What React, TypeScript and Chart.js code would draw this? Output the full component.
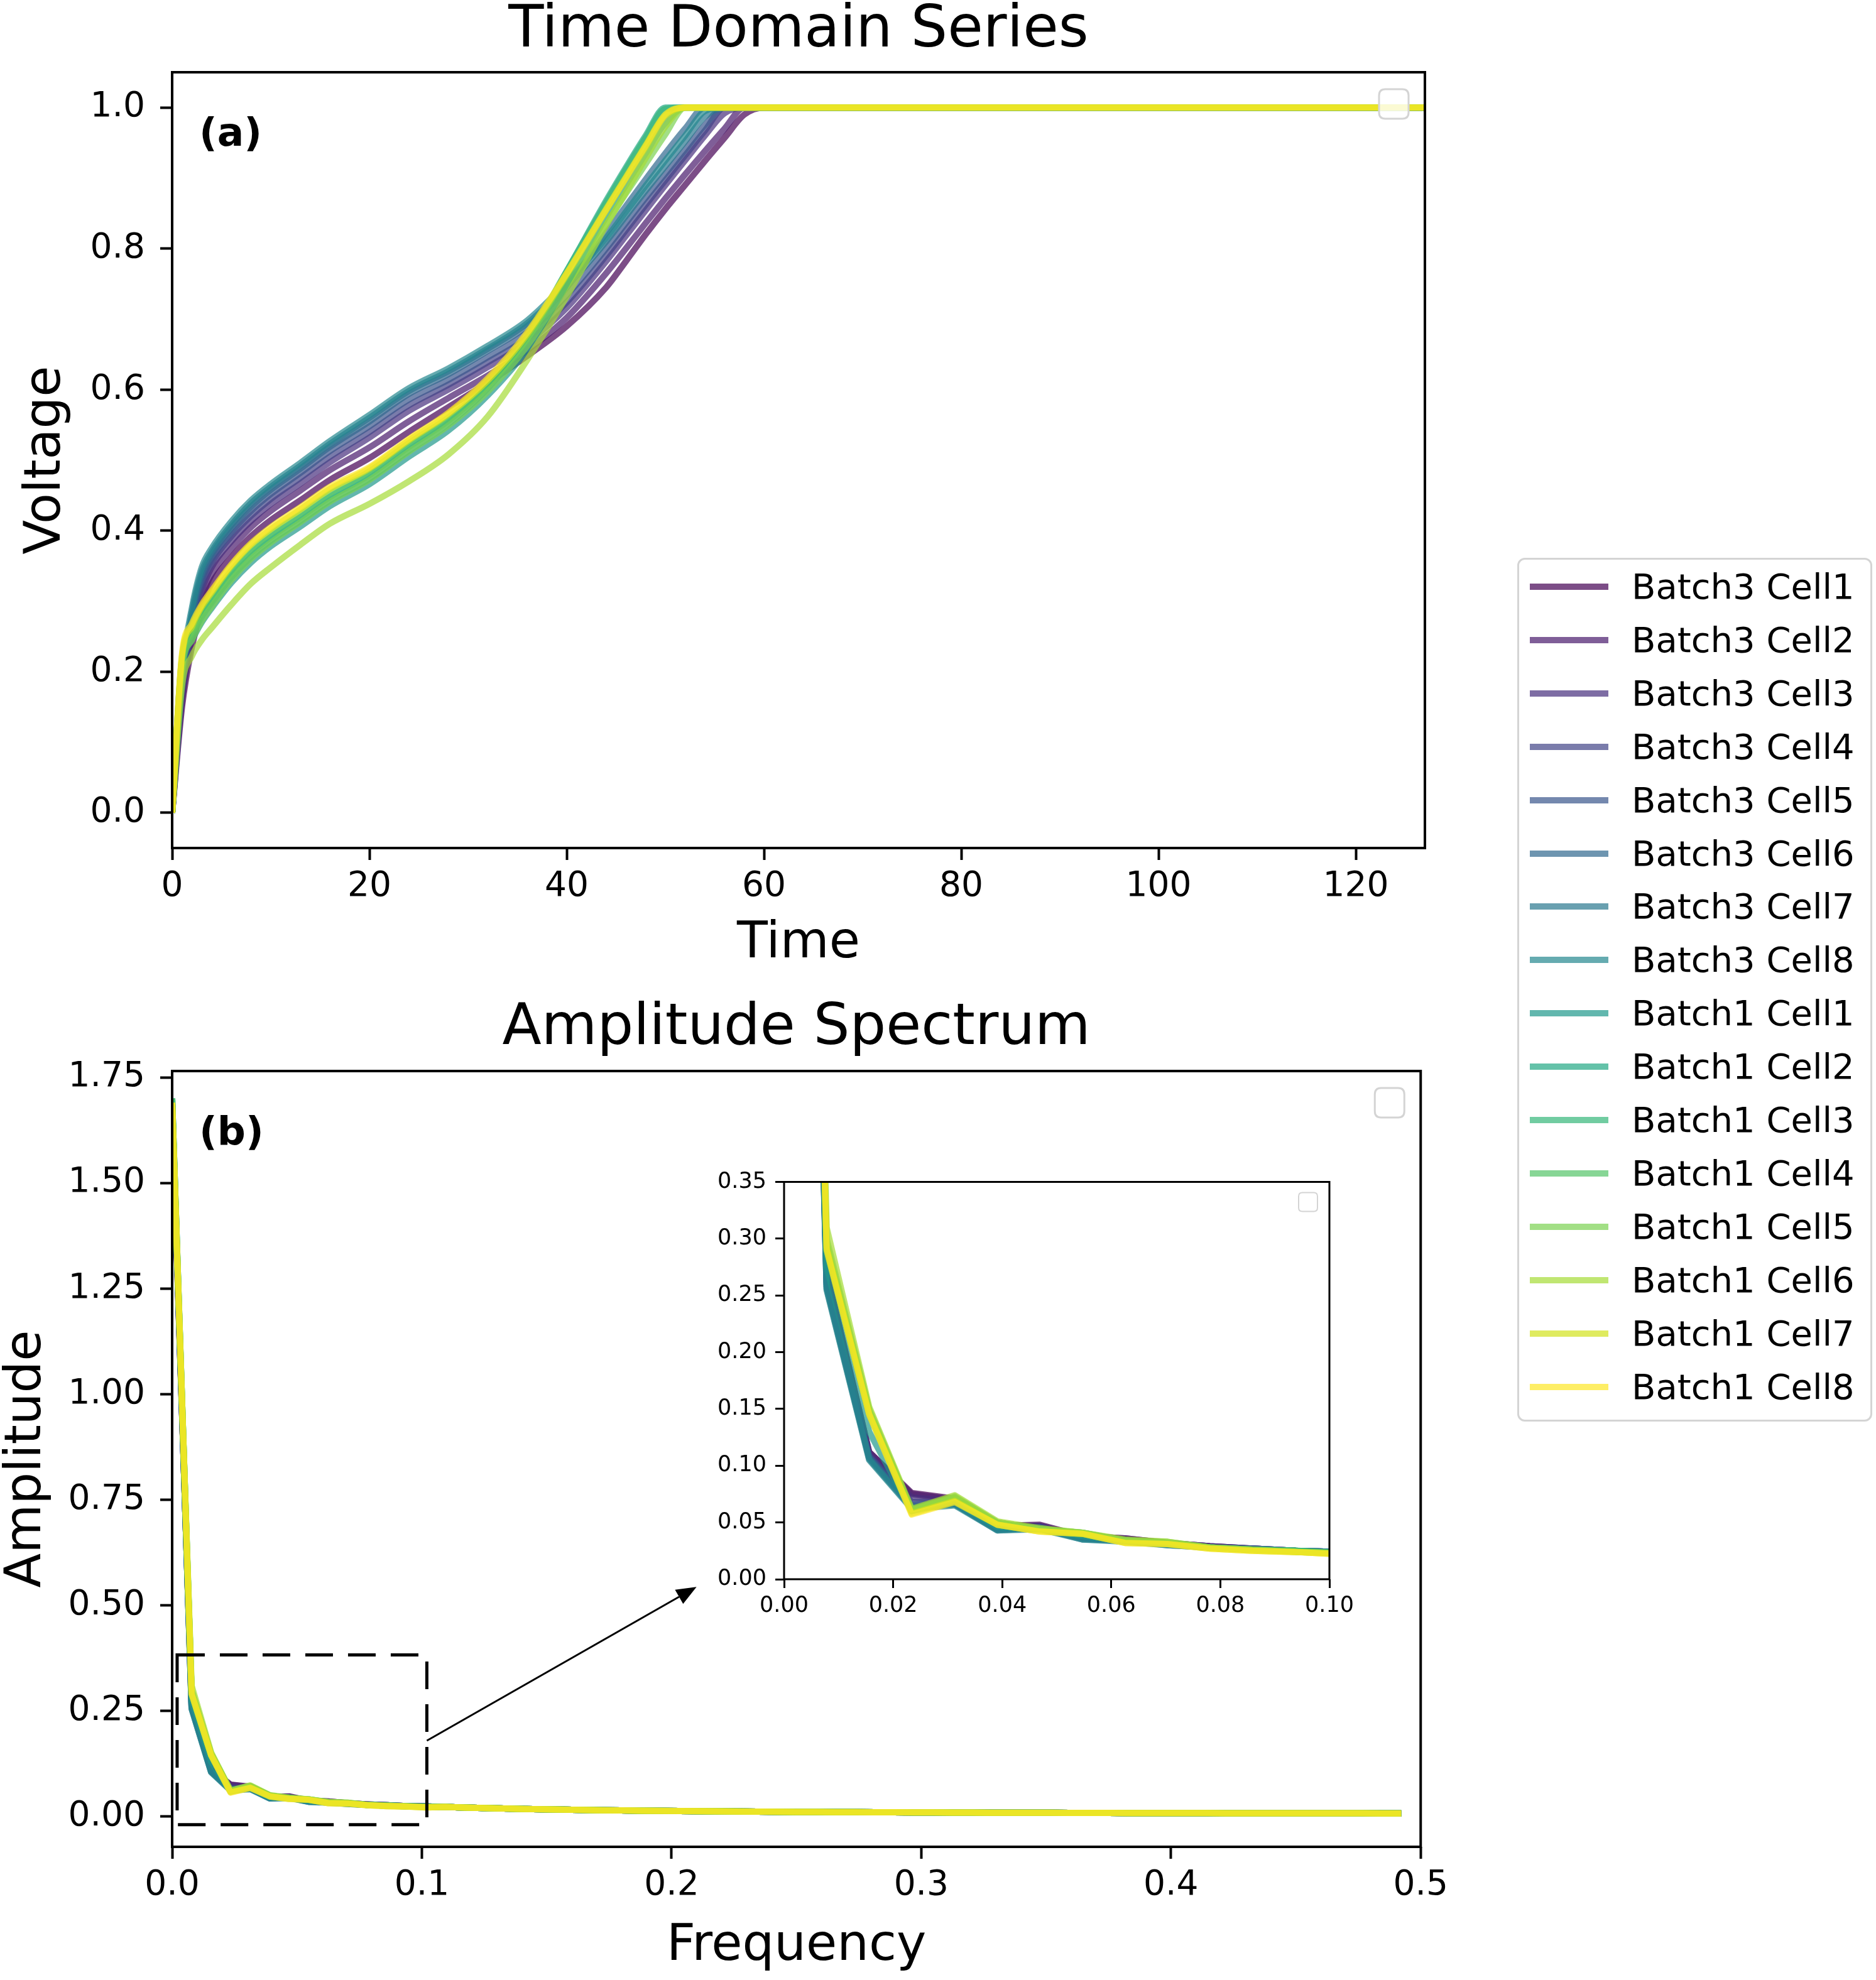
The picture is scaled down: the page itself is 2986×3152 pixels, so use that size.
import React, { useEffect, useRef } from 'react';
import { Chart, registerables } from 'chart.js';

Chart.register(...registerables);

const FONT = "'DejaVu Sans', 'Liberation Sans', sans-serif";
Chart.defaults.font.family = FONT;

// ---------------- data ----------------
const SERIES_NAMES = [
  'Batch3 Cell1', 'Batch3 Cell2', 'Batch3 Cell3', 'Batch3 Cell4',
  'Batch3 Cell5', 'Batch3 Cell6', 'Batch3 Cell7', 'Batch3 Cell8',
  'Batch1 Cell1', 'Batch1 Cell2', 'Batch1 Cell3', 'Batch1 Cell4',
  'Batch1 Cell5', 'Batch1 Cell6', 'Batch1 Cell7', 'Batch1 Cell8',
];

const TIME = [0, 1, 2, 3, 4, 6, 8, 10, 13, 16, 20, 24, 28, 32, 36, 40, 44, 46, 48, 50, 52, 54, 56, 58, 60, 127];

const V_B3C1 = [0, 0.15, 0.235, 0.29, 0.325, 0.362, 0.392, 0.415, 0.443, 0.472, 0.503, 0.54, 0.575, 0.61, 0.648, 0.69, 0.745, 0.782, 0.82, 0.856, 0.89, 0.924, 0.957, 0.99, 1, 1];
const V_B3C2 = [0, 0.16, 0.25, 0.305, 0.338, 0.375, 0.405, 0.428, 0.457, 0.486, 0.518, 0.555, 0.588, 0.62, 0.656, 0.702, 0.765, 0.8, 0.836, 0.871, 0.905, 0.938, 0.97, 1, 1, 1];
const V_B3C3 = [0, 0.17, 0.26, 0.315, 0.348, 0.385, 0.414, 0.438, 0.467, 0.497, 0.532, 0.57, 0.6, 0.632, 0.667, 0.716, 0.782, 0.818, 0.854, 0.89, 0.925, 0.96, 0.992, 1, 1, 1];
const V_B3C4 = [0, 0.17, 0.265, 0.322, 0.354, 0.392, 0.421, 0.445, 0.475, 0.505, 0.54, 0.578, 0.607, 0.639, 0.673, 0.724, 0.79, 0.826, 0.862, 0.897, 0.932, 0.967, 1, 1, 1, 1];
const V_B3C5 = [0, 0.18, 0.272, 0.33, 0.36, 0.398, 0.428, 0.452, 0.482, 0.513, 0.548, 0.586, 0.614, 0.646, 0.681, 0.734, 0.8, 0.836, 0.872, 0.906, 0.94, 0.975, 1, 1, 1, 1];
const V_B3C6 = [0, 0.185, 0.278, 0.336, 0.366, 0.404, 0.434, 0.458, 0.488, 0.519, 0.555, 0.594, 0.622, 0.655, 0.69, 0.745, 0.822, 0.86, 0.898, 0.935, 0.97, 1, 1, 1, 1, 1];
const V_B3C7 = [0, 0.19, 0.284, 0.342, 0.37, 0.408, 0.439, 0.462, 0.492, 0.523, 0.56, 0.598, 0.626, 0.658, 0.694, 0.747, 0.81, 0.846, 0.882, 0.917, 0.952, 0.987, 1, 1, 1, 1];
const V_B3C8 = [0, 0.2, 0.29, 0.348, 0.375, 0.413, 0.443, 0.466, 0.496, 0.527, 0.564, 0.602, 0.63, 0.662, 0.698, 0.752, 0.815, 0.852, 0.889, 0.925, 0.96, 0.995, 1, 1, 1, 1];
const V_B1C1 = [0, 0.21, 0.245, 0.27, 0.29, 0.326, 0.355, 0.378, 0.406, 0.435, 0.466, 0.505, 0.542, 0.592, 0.657, 0.747, 0.845, 0.89, 0.935, 0.978, 1, 1, 1, 1, 1, 1];
const V_B1C2 = [0, 0.215, 0.252, 0.278, 0.298, 0.334, 0.363, 0.386, 0.414, 0.443, 0.474, 0.514, 0.552, 0.602, 0.672, 0.768, 0.868, 0.915, 0.96, 1, 1, 1, 1, 1, 1, 1];
const V_B1C3 = [0, 0.218, 0.256, 0.282, 0.302, 0.338, 0.368, 0.391, 0.419, 0.448, 0.479, 0.519, 0.556, 0.605, 0.673, 0.768, 0.865, 0.912, 0.957, 0.998, 1, 1, 1, 1, 1, 1];
const V_B1C4 = [0, 0.22, 0.26, 0.287, 0.307, 0.343, 0.373, 0.396, 0.424, 0.453, 0.484, 0.524, 0.56, 0.607, 0.672, 0.763, 0.858, 0.903, 0.948, 0.99, 1, 1, 1, 1, 1, 1];
const V_B1C5 = [0, 0.205, 0.245, 0.272, 0.292, 0.33, 0.36, 0.383, 0.412, 0.441, 0.472, 0.512, 0.549, 0.597, 0.662, 0.748, 0.835, 0.878, 0.92, 0.962, 1, 1, 1, 1, 1, 1];
const V_B1C6 = [0, 0.18, 0.222, 0.245, 0.262, 0.295, 0.325, 0.348, 0.38, 0.41, 0.438, 0.47, 0.508, 0.562, 0.642, 0.732, 0.833, 0.88, 0.928, 0.973, 1, 1, 1, 1, 1, 1];
const V_B1C7 = [0, 0.222, 0.264, 0.292, 0.312, 0.35, 0.38, 0.402, 0.43, 0.459, 0.488, 0.528, 0.565, 0.613, 0.678, 0.763, 0.854, 0.899, 0.944, 0.988, 1, 1, 1, 1, 1, 1];
const V_B1C8 = [0, 0.225, 0.268, 0.295, 0.315, 0.352, 0.382, 0.405, 0.433, 0.462, 0.49, 0.53, 0.567, 0.616, 0.681, 0.765, 0.856, 0.901, 0.946, 0.99, 1, 1, 1, 1, 1, 1];

const VOLTAGE = [V_B3C1, V_B3C2, V_B3C3, V_B3C4, V_B3C5, V_B3C6, V_B3C7, V_B3C8,
  V_B1C1, V_B1C2, V_B1C3, V_B1C4, V_B1C5, V_B1C6, V_B1C7, V_B1C8];

const FREQ = [
  0, 0.0078, 0.0156, 0.0234, 0.0313, 0.0391, 0.0469, 0.0547,
  0.0625, 0.0703, 0.0781, 0.0859, 0.0938, 0.1016, 0.1094, 0.1172,
  0.125, 0.1328, 0.1406, 0.1484, 0.1563, 0.1641, 0.1719, 0.1797,
  0.1875, 0.1953, 0.2031, 0.2109, 0.2188, 0.2266, 0.2344, 0.2422,
  0.25, 0.2578, 0.2656, 0.2734, 0.2813, 0.2891, 0.2969, 0.3047,
  0.3125, 0.3203, 0.3281, 0.3359, 0.3438, 0.3516, 0.3594, 0.3672,
  0.375, 0.3828, 0.3906, 0.3984, 0.4063, 0.4141, 0.4219, 0.4297,
  0.4375, 0.4453, 0.4531, 0.4609, 0.4688, 0.4766, 0.4844, 0.4922,
];

// first 14 bins (f = 0 ... 0.1016) differ per cell
const A_B3C1 = [1.66, 0.27, 0.112, 0.076, 0.071, 0.047, 0.048, 0.038, 0.036, 0.032, 0.029, 0.027, 0.025, 0.024];
const A_B3C2 = [1.67, 0.27, 0.112, 0.075, 0.07, 0.047, 0.047, 0.038, 0.036, 0.032, 0.029, 0.027, 0.025, 0.024];
const A_B3C3 = [1.67, 0.265, 0.11, 0.072, 0.069, 0.046, 0.047, 0.037, 0.035, 0.032, 0.029, 0.027, 0.025, 0.024];
const A_B3C4 = [1.68, 0.262, 0.109, 0.068, 0.068, 0.045, 0.046, 0.037, 0.035, 0.031, 0.028, 0.027, 0.025, 0.024];
const A_B3C5 = [1.68, 0.26, 0.108, 0.066, 0.067, 0.044, 0.046, 0.036, 0.034, 0.031, 0.028, 0.027, 0.025, 0.024];
const A_B3C6 = [1.69, 0.258, 0.107, 0.064, 0.066, 0.044, 0.045, 0.036, 0.034, 0.031, 0.028, 0.027, 0.025, 0.024];
const A_B3C7 = [1.69, 0.256, 0.106, 0.063, 0.066, 0.043, 0.045, 0.035, 0.034, 0.03, 0.028, 0.026, 0.025, 0.024];
const A_B3C8 = [1.69, 0.255, 0.105, 0.062, 0.065, 0.043, 0.044, 0.035, 0.033, 0.03, 0.028, 0.026, 0.025, 0.024];
const A_B1C1 = [1.7, 0.275, 0.13, 0.06, 0.068, 0.046, 0.044, 0.038, 0.034, 0.031, 0.028, 0.026, 0.025, 0.023];
const A_B1C2 = [1.7, 0.29, 0.145, 0.06, 0.071, 0.049, 0.044, 0.04, 0.034, 0.032, 0.028, 0.026, 0.025, 0.023];
const A_B1C3 = [1.7, 0.29, 0.147, 0.06, 0.072, 0.05, 0.044, 0.041, 0.034, 0.032, 0.028, 0.026, 0.025, 0.023];
const A_B1C4 = [1.7, 0.295, 0.148, 0.061, 0.072, 0.05, 0.044, 0.041, 0.034, 0.032, 0.028, 0.026, 0.025, 0.023];
const A_B1C5 = [1.69, 0.3, 0.15, 0.061, 0.073, 0.05, 0.044, 0.041, 0.034, 0.033, 0.028, 0.026, 0.024, 0.023];
const A_B1C6 = [1.68, 0.31, 0.152, 0.062, 0.074, 0.051, 0.045, 0.041, 0.035, 0.033, 0.028, 0.026, 0.024, 0.023];
const A_B1C7 = [1.69, 0.292, 0.146, 0.058, 0.069, 0.048, 0.042, 0.04, 0.032, 0.031, 0.027, 0.025, 0.024, 0.022];
const A_B1C8 = [1.69, 0.29, 0.145, 0.057, 0.068, 0.048, 0.042, 0.04, 0.032, 0.031, 0.027, 0.025, 0.024, 0.022];

// remaining bins (f = 0.1094 ... 0.4922), common to all cells
const A_TAIL = [
  0.0231, 0.0216, 0.0204, 0.0193, 0.0183, 0.0174, 0.0166, 0.0159, 0.0153, 0.0147,
  0.0142, 0.0137, 0.0133, 0.0129, 0.0125, 0.0122, 0.0119, 0.0116, 0.0113, 0.0111,
  0.0108, 0.0106, 0.0104, 0.0102, 0.0101, 0.0099, 0.0097, 0.0096, 0.0094, 0.0093,
  0.0092, 0.0091, 0.009, 0.0089, 0.0088, 0.0087, 0.0086, 0.0085, 0.0084, 0.0084,
  0.0083, 0.0082, 0.0082, 0.0081, 0.0081, 0.008, 0.008, 0.008, 0.0079, 0.0079,
];

const AMP_HEADS = [A_B3C1, A_B3C2, A_B3C3, A_B3C4, A_B3C5, A_B3C6, A_B3C7, A_B3C8,
  A_B1C1, A_B1C2, A_B1C3, A_B1C4, A_B1C5, A_B1C6, A_B1C7, A_B1C8];

const TIME_TICKS = [0, 20, 40, 60, 80, 100, 120];
const VOLT_TICKS = [0, 0.2, 0.4, 0.6, 0.8, 1.0];
const FREQ_TICKS = [0, 0.1, 0.2, 0.3, 0.4, 0.5];
const AMP_TICKS = [0, 0.25, 0.5, 0.75, 1.0, 1.25, 1.5, 1.75];
const INSET_FREQ_TICKS = [0, 0.02, 0.04, 0.06, 0.08, 0.1];
const INSET_AMP_TICKS = [0, 0.05, 0.1, 0.15, 0.2, 0.25, 0.3, 0.35];

// ---------------- styling ----------------
const VIRIDIS_16 = ['#440154', '#481a6c', '#472f7d', '#414487', '#39568c', '#31688e', '#2a788e', '#23888e',
  '#1f988b', '#22a884', '#35b779', '#54c568', '#7ad151', '#a5db36', '#d2e21b', '#fde725'];
const LINE_ALPHA = 0.7;

function rgba(hex: string, a: number) {
  const n = parseInt(hex.slice(1), 16);
  return `rgba(${(n >> 16) & 255},${(n >> 8) & 255},${n & 255},${a})`;
}

function roundRectPath(ctx: CanvasRenderingContext2D, x: number, y: number, w: number, h: number, r: number) {
  ctx.beginPath();
  ctx.moveTo(x + r, y);
  ctx.lineTo(x + w - r, y);
  ctx.quadraticCurveTo(x + w, y, x + w, y + r);
  ctx.lineTo(x + w, y + h - r);
  ctx.quadraticCurveTo(x + w, y + h, x + w - r, y + h);
  ctx.lineTo(x + r, y + h);
  ctx.quadraticCurveTo(x, y + h, x, y + h - r);
  ctx.lineTo(x, y + r);
  ctx.quadraticCurveTo(x, y, x + r, y);
  ctx.closePath();
}

const framePlugin = {
  id: 'frame',
  afterDatasetsDraw(chart: any, _a: any, opts: any) {
    const { ctx, chartArea: a } = chart;
    ctx.save();
    ctx.strokeStyle = '#000';
    ctx.lineWidth = opts.width;
    ctx.strokeRect(a.left, a.top, a.right - a.left, a.bottom - a.top);
    ctx.restore();
  },
};

const emptyLegendPlugin = {
  id: 'emptyLegend',
  afterDatasetsDraw(chart: any, _a: any, opts: any) {
    const { ctx, chartArea: a } = chart;
    const x = a.right - opts.offX - opts.size;
    const y = a.top + opts.offY;
    ctx.save();
    roundRectPath(ctx, x, y, opts.size, opts.size, opts.radius);
    ctx.fillStyle = 'rgba(255,255,255,0.8)';
    ctx.fill();
    ctx.strokeStyle = '#d4d4d4';
    ctx.lineWidth = opts.lineWidth;
    ctx.stroke();
    ctx.restore();
  },
};

const panelLabelPlugin = {
  id: 'panelLabel',
  afterDatasetsDraw(chart: any, _a: any, opts: any) {
    const { ctx, chartArea: a } = chart;
    ctx.save();
    ctx.fillStyle = '#000';
    ctx.font = `bold ${opts.size}px ${FONT}`;
    ctx.textBaseline = 'alphabetic';
    ctx.textAlign = 'left';
    ctx.fillText(opts.text, a.left + opts.dx, a.top + opts.dy);
    ctx.restore();
  },
};

// zoom region marker and arrow (in data units of the spectrum axes)
const ZOOM_BOX_FREQ = [0.002, 0.102];
const ZOOM_BOX_AMP = [-0.019, 0.383];
const ARROW_FROM = [0.102, 0.18];
const ARROW_TO = [0.21, 0.544];

const zoomMarkPlugin = {
  id: 'zoomMark',
  afterDatasetsDraw(chart: any) {
    const { ctx } = chart;
    const xs = chart.scales.x;
    const ys = chart.scales.y;
    const x0 = xs.getPixelForValue(ZOOM_BOX_FREQ[0]);
    const x1 = xs.getPixelForValue(ZOOM_BOX_FREQ[1]);
    const y0 = ys.getPixelForValue(ZOOM_BOX_AMP[1]);
    const y1 = ys.getPixelForValue(ZOOM_BOX_AMP[0]);
    ctx.save();
    ctx.strokeStyle = '#000';
    ctx.lineWidth = 5;
    ctx.setLineDash([44, 24]);
    ctx.strokeRect(x0, y0, x1 - x0, y1 - y0);
    ctx.setLineDash([]);
    const ax = xs.getPixelForValue(ARROW_FROM[0]);
    const ay = ys.getPixelForValue(ARROW_FROM[1]);
    const bx = xs.getPixelForValue(ARROW_TO[0]);
    const by = ys.getPixelForValue(ARROW_TO[1]);
    const ang = Math.atan2(by - ay, bx - ax);
    const headLen = 32;
    const headW = 13;
    const hx = bx - headLen * Math.cos(ang);
    const hy = by - headLen * Math.sin(ang);
    ctx.lineWidth = 3;
    ctx.beginPath();
    ctx.moveTo(ax, ay);
    ctx.lineTo(hx, hy);
    ctx.stroke();
    ctx.beginPath();
    ctx.moveTo(bx, by);
    ctx.lineTo(hx + headW * Math.sin(ang), hy - headW * Math.cos(ang));
    ctx.lineTo(hx - headW * Math.sin(ang), hy + headW * Math.cos(ang));
    ctx.closePath();
    ctx.fillStyle = '#000';
    ctx.fill();
    ctx.restore();
  },
};

type AxisArgs = {
  min: number; max: number; ticks: number[]; fmt: (v: number) => string;
  size: number; fontSize: number; tickLen: number; tickWidth: number; pad: number;
  title?: string; titleSize?: number; titlePad?: { top: number; bottom: number };
  horizontal: boolean;
};

function axis(o: AxisArgs) {
  return {
    type: 'linear',
    position: o.horizontal ? 'bottom' : 'left',
    min: o.min,
    max: o.max,
    afterBuildTicks: (s: any) => { s.ticks = o.ticks.map((v) => ({ value: v })); },
    afterFit: (s: any) => { if (o.horizontal) s.height = o.size; else s.width = o.size; },
    grid: {
      display: true, drawOnChartArea: false, drawTicks: true,
      tickLength: o.tickLen, tickWidth: o.tickWidth, tickColor: '#000', color: '#000',
    },
    border: { display: false },
    ticks: {
      color: '#000', autoSkip: false, maxRotation: 0, minRotation: 0, padding: o.pad,
      font: { family: FONT, size: o.fontSize, lineHeight: 1 },
      callback: (v: any) => o.fmt(Number(v)),
    },
    title: o.title
      ? { display: true, text: o.title, color: '#000', font: { family: FONT, size: o.titleSize, lineHeight: 1 }, padding: o.titlePad }
      : { display: false },
  };
}

function lineDatasets(xs: number[], ys: number[][], smooth: boolean) {
  return SERIES_NAMES.map((name, i) => ({
    label: name,
    data: xs.map((x, j) => ({ x, y: ys[i][j] })),
    borderColor: rgba(VIRIDIS_16[i], LINE_ALPHA),
    backgroundColor: rgba(VIRIDIS_16[i], LINE_ALPHA),
    borderWidth: 10,
    pointRadius: 0,
    pointHoverRadius: 0,
    fill: false,
    tension: 0,
    cubicInterpolationMode: smooth ? 'monotone' : 'default',
    borderJoinStyle: 'round',
    clip: 0,
    // later series are drawn on top, as in the original plot
    order: SERIES_NAMES.length - i,
  }));
}

export default function App() {
  const topRef = useRef<HTMLCanvasElement>(null);
  const botRef = useRef<HTMLCanvasElement>(null);
  const insetRef = useRef<HTMLCanvasElement>(null);

  useEffect(() => {
    const amps = AMP_HEADS.map((h) => h.concat(A_TAIL));
    const charts: Chart[] = [];

    charts.push(new Chart(topRef.current as HTMLCanvasElement, {
      type: 'line',
      data: { datasets: lineDatasets(TIME, VOLTAGE, true) as any },
      plugins: [framePlugin, emptyLegendPlugin, panelLabelPlugin],
      options: {
        responsive: false, animation: false, devicePixelRatio: 1, events: [],
        layout: { padding: { left: 0, right: 52, top: 0, bottom: 0 } },
        plugins: {
          legend: { display: false }, tooltip: { enabled: false },
          title: {
            display: true, text: 'Time Domain Series', fullSize: false, color: '#000',
            font: { family: FONT, size: 92, weight: 'normal', lineHeight: 1 }, padding: { top: 4, bottom: 19 },
          },
          frame: { width: 4 },
          emptyLegend: { size: 47, offX: 26, offY: 27, radius: 10, lineWidth: 3 },
          panelLabel: { text: '(a)', size: 63, dx: 43, dy: 117 },
        } as any,
        scales: {
          x: axis({ min: 0, max: 127, ticks: TIME_TICKS, fmt: (v) => String(v), size: 220, fontSize: 55, tickLen: 19, tickWidth: 4, pad: 15, title: 'Time', titleSize: 80, titlePad: { top: 0, bottom: 27 }, horizontal: true }),
          y: axis({ min: -0.05, max: 1.05, ticks: VOLT_TICKS, fmt: (v) => v.toFixed(1), size: 274, fontSize: 55, tickLen: 19, tickWidth: 4, pad: 24, title: 'Voltage', titleSize: 80, titlePad: { top: 34, bottom: 0 }, horizontal: false }),
        } as any,
      },
    } as any));

    charts.push(new Chart(botRef.current as HTMLCanvasElement, {
      type: 'line',
      data: { datasets: lineDatasets(FREQ, amps, false) as any },
      plugins: [framePlugin, emptyLegendPlugin, panelLabelPlugin, zoomMarkPlugin],
      options: {
        responsive: false, animation: false, devicePixelRatio: 1, events: [],
        layout: { padding: { left: 0, right: 52, top: 0, bottom: 0 } },
        plugins: {
          legend: { display: false }, tooltip: { enabled: false },
          title: {
            display: true, text: 'Amplitude Spectrum', fullSize: false, color: '#000',
            font: { family: FONT, size: 91, weight: 'normal', lineHeight: 1 }, padding: { top: 33, bottom: 21 },
          },
          frame: { width: 4 },
          emptyLegend: { size: 47, offX: 26, offY: 27, radius: 10, lineWidth: 3 },
          panelLabel: { text: '(b)', size: 63, dx: 43, dy: 117 },
        } as any,
        scales: {
          x: axis({ min: 0, max: 0.5, ticks: FREQ_TICKS, fmt: (v) => v.toFixed(1), size: 212, fontSize: 55, tickLen: 19, tickWidth: 4, pad: 15, title: 'Frequency', titleSize: 80, titlePad: { top: 0, bottom: 13 }, horizontal: true }),
          y: axis({ min: -0.0714, max: 1.765, ticks: AMP_TICKS, fmt: (v) => v.toFixed(2), size: 274, fontSize: 55, tickLen: 19, tickWidth: 4, pad: 24, title: 'Amplitude', titleSize: 80, titlePad: { top: 3, bottom: 0 }, horizontal: false }),
        } as any,
      },
    } as any));

    charts.push(new Chart(insetRef.current as HTMLCanvasElement, {
      type: 'line',
      data: { datasets: lineDatasets(FREQ, amps, false) as any },
      plugins: [framePlugin, emptyLegendPlugin],
      options: {
        responsive: false, animation: false, devicePixelRatio: 1, events: [],
        layout: { padding: { left: 0, right: 54, top: 22, bottom: 0 } },
        plugins: {
          legend: { display: false }, tooltip: { enabled: false }, title: { display: false },
          frame: { width: 3 },
          emptyLegend: { size: 30, offX: 19, offY: 17, radius: 6, lineWidth: 2 },
        } as any,
        scales: {
          x: axis({ min: 0, max: 0.1, ticks: INSET_FREQ_TICKS, fmt: (v) => v.toFixed(2), size: 86, fontSize: 35, tickLen: 14, tickWidth: 3, pad: 11, horizontal: true }),
          y: axis({ min: 0, max: 0.35, ticks: INSET_AMP_TICKS, fmt: (v) => v.toFixed(2), size: 118, fontSize: 35, tickLen: 14, tickWidth: 3, pad: 14, horizontal: false }),
        } as any,
      },
    } as any));

    return () => charts.forEach((c) => c.destroy());
  }, []);

  return (
    <div style={{ position: 'absolute', left: 0, top: 0, width: 2986, height: 3152, background: '#fff', overflow: 'hidden' }}>
      <canvas ref={topRef} width={2320} height={1570} style={{ position: 'absolute', left: 0, top: 0 }} />
      <canvas ref={botRef} width={2320} height={1592} style={{ position: 'absolute', left: 0, top: 1560 }} />
      <canvas ref={insetRef} width={1040} height={750} style={{ position: 'absolute', left: 1130, top: 1850 }} />
      <div style={{ position: 'absolute', left: 2415, top: 888, width: 565, height: 1375, border: '3px solid #d4d4d4', borderRadius: 12, boxSizing: 'border-box', background: '#fff' }} />
      {SERIES_NAMES.map((name, i) => {
        const cy = 934 + i * 84.9;
        return (
          <React.Fragment key={name}>
            <div style={{ position: 'absolute', left: 2435, top: cy - 5, width: 125, height: 10, background: rgba(VIRIDIS_16[i], LINE_ALPHA) }} />
            <div style={{ position: 'absolute', left: 2597, top: cy - 42, height: 84, lineHeight: '84px', fontSize: 56, fontFamily: FONT, color: '#000', whiteSpace: 'nowrap' }}>{name}</div>
          </React.Fragment>
        );
      })}
    </div>
  );
}
